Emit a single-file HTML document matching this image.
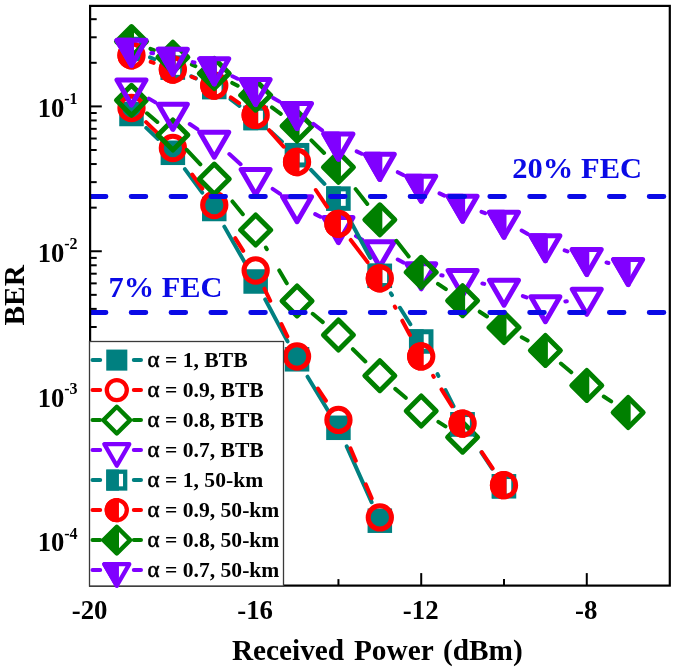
<!DOCTYPE html>
<html><head><meta charset="utf-8"><title>BER vs Received Power</title>
<style>html,body{margin:0;padding:0;background:#fff}svg{display:block}</style></head>
<body>
<svg width="675" height="672" viewBox="0 0 675 672" font-family="'Liberation Serif', serif" font-weight="bold">
<rect width="675" height="672" fill="#fff"/>
<path stroke="#008080" stroke-width="4.0" stroke-linecap="round" fill="none" d="M146.3 127.88L158.07 138.92M184.92 169.15L202.23 192.65M224.33 226.63L245.6 263.87M265.19 299.42L287.52 341.38M307.55 376.67L327.94 410.43M346.7 446.34L371.57 502.16"/>
<g><rect x="121.74" y="104.25" width="19.5" height="19.5" fill="#008080" stroke="#008080" stroke-width="5"/><rect x="163.13" y="143.05" width="19.5" height="19.5" fill="#008080" stroke="#008080" stroke-width="5"/><rect x="204.52" y="199.25" width="19.5" height="19.5" fill="#008080" stroke="#008080" stroke-width="5"/><rect x="245.91" y="271.75" width="19.5" height="19.5" fill="#008080" stroke="#008080" stroke-width="5"/><rect x="287.3" y="349.55" width="19.5" height="19.5" fill="#008080" stroke="#008080" stroke-width="5"/><rect x="328.69" y="418.05" width="19.5" height="19.5" fill="#008080" stroke="#008080" stroke-width="5"/><rect x="370.08" y="510.95" width="19.5" height="19.5" fill="#008080" stroke="#008080" stroke-width="5"/></g>
<path stroke="#ff0000" stroke-width="4.0" stroke-linecap="round" fill="none" d="M146.09 122.11L158.28 133.89M192.15 174.54L202.32 188.54M235.21 238.14L243.22 250.82M264.42 288.7L270.23 300.78M281.46 324.11L287.36 336.37M317.93 388.49L325.91 400.71M350.48 448.25L355.79 460.77M365.83 484.43L371.69 498.23"/>
<g><circle cx="131.49" cy="108" r="11.65" fill="none" stroke="#ff0000" stroke-width="5"/><circle cx="172.88" cy="148" r="11.65" fill="none" stroke="#ff0000" stroke-width="5"/><circle cx="214.27" cy="205" r="11.65" fill="none" stroke="#ff0000" stroke-width="5"/><circle cx="255.66" cy="270.5" r="11.65" fill="none" stroke="#ff0000" stroke-width="5"/><circle cx="297.05" cy="356.5" r="11.65" fill="none" stroke="#ff0000" stroke-width="5"/><circle cx="338.44" cy="419.9" r="11.65" fill="none" stroke="#ff0000" stroke-width="5"/><circle cx="379.83" cy="517.4" r="11.65" fill="none" stroke="#ff0000" stroke-width="5"/></g>
<path stroke="#008000" stroke-width="4.0" stroke-linecap="round" fill="none" d="M147.05 113.34L157.32 121.96M186.77 149.8L200.38 164.3M232.44 201.44L242.85 214.25M265.89 247.53L266.85 249.17M279.25 270.42L286.77 283.28M312.72 313.81L322.77 322.09M352.91 349.23L365.36 361.47M395.28 388.87L405.77 397.83M438.37 421.86L445.46 426.34"/>
<g><path d="M131.49 85.3L146.49 100.3L131.49 115.3L116.49 100.3Z" fill="none" stroke="#008000" stroke-width="5" stroke-linejoin="round"/><path d="M172.88 120L187.88 135L172.88 150L157.88 135Z" fill="none" stroke="#008000" stroke-width="5" stroke-linejoin="round"/><path d="M214.27 164.1L229.27 179.1L214.27 194.1L199.27 179.1Z" fill="none" stroke="#008000" stroke-width="5" stroke-linejoin="round"/><path d="M255.66 215L270.66 230L255.66 245L240.66 230Z" fill="none" stroke="#008000" stroke-width="5" stroke-linejoin="round"/><path d="M297.05 285.9L312.05 300.9L297.05 315.9L282.05 300.9Z" fill="none" stroke="#008000" stroke-width="5" stroke-linejoin="round"/><path d="M338.44 320L353.44 335L338.44 350L323.44 335Z" fill="none" stroke="#008000" stroke-width="5" stroke-linejoin="round"/><path d="M379.83 360.7L394.83 375.7L379.83 390.7L364.83 375.7Z" fill="none" stroke="#008000" stroke-width="5" stroke-linejoin="round"/><path d="M421.22 396L436.22 411L421.22 426L406.22 411Z" fill="none" stroke="#008000" stroke-width="5" stroke-linejoin="round"/><path d="M462.61 422.2L477.61 437.2L462.61 452.2L447.61 437.2Z" fill="none" stroke="#008000" stroke-width="5" stroke-linejoin="round"/></g>
<path stroke="#8000ff" stroke-width="4.0" stroke-linecap="round" fill="none" d="M148.98 98.61L155.39 102.39M189.73 124.02L197.42 129.18M229.35 154.09L240.58 164.21M272.62 188.95L280.09 193.85M315.17 214.15L320.32 216.75M355.98 236.11L362.29 239.79M397.74 259.56L403.31 262.54M441.26 275.34L442.57 275.56M482.37 283.43L484.24 283.87M522.86 296.02L526.53 297.48M565.37 301.43L566.8 301.17"/>
<g><path d="M116.99 79.93L145.99 79.93L131.49 105.04Z" fill="none" stroke="#8000ff" stroke-width="5" stroke-linejoin="round"/><path d="M158.38 104.33L187.38 104.33L172.88 129.44Z" fill="none" stroke="#8000ff" stroke-width="5" stroke-linejoin="round"/><path d="M199.77 132.13L228.77 132.13L214.27 157.24Z" fill="none" stroke="#8000ff" stroke-width="5" stroke-linejoin="round"/><path d="M241.16 169.43L270.16 169.43L255.66 194.54Z" fill="none" stroke="#8000ff" stroke-width="5" stroke-linejoin="round"/><path d="M282.55 196.63L311.55 196.63L297.05 221.74Z" fill="none" stroke="#8000ff" stroke-width="5" stroke-linejoin="round"/><path d="M323.94 217.53L352.94 217.53L338.44 242.64Z" fill="none" stroke="#8000ff" stroke-width="5" stroke-linejoin="round"/><path d="M365.33 241.63L394.33 241.63L379.83 266.74Z" fill="none" stroke="#8000ff" stroke-width="5" stroke-linejoin="round"/><path d="M406.72 263.73L435.72 263.73L421.22 288.84Z" fill="none" stroke="#8000ff" stroke-width="5" stroke-linejoin="round"/><path d="M448.11 270.43L477.11 270.43L462.61 295.54Z" fill="none" stroke="#8000ff" stroke-width="5" stroke-linejoin="round"/><path d="M489.5 280.13L518.5 280.13L504 305.24Z" fill="none" stroke="#8000ff" stroke-width="5" stroke-linejoin="round"/><path d="M530.89 296.63L559.89 296.63L545.39 321.74Z" fill="none" stroke="#8000ff" stroke-width="5" stroke-linejoin="round"/><path d="M572.28 289.23L601.28 289.23L586.78 314.34Z" fill="none" stroke="#8000ff" stroke-width="5" stroke-linejoin="round"/></g>
<path stroke="#008080" stroke-width="4.0" stroke-linecap="round" fill="none" d="M150.01 57.32L154.36 59.28M191.26 76.22L195.89 78.38M230.52 99.17L239.41 105.83M270.76 131.57L281.95 141.63M311.06 169.89L324.43 183.91M348.03 216.49L370.24 257.91M390.86 293.31L391.98 295.09M399.98 307.78L410.37 324.28M437.54 374.15L438.39 375.85M445.5 390.07L453.55 406.17M481.38 452.41L492.15 468.55"/>
<g><rect x="121.74" y="39.25" width="19.5" height="19.5" fill="none" stroke="#008080" stroke-width="5"/><rect x="121.74" y="39.25" width="9.75" height="19.5" fill="#008080" stroke="#008080" stroke-width="5"/><rect x="163.13" y="57.85" width="19.5" height="19.5" fill="none" stroke="#008080" stroke-width="5"/><rect x="163.13" y="57.85" width="9.75" height="19.5" fill="#008080" stroke="#008080" stroke-width="5"/><rect x="204.52" y="77.25" width="19.5" height="19.5" fill="none" stroke="#008080" stroke-width="5"/><rect x="204.52" y="77.25" width="9.75" height="19.5" fill="#008080" stroke="#008080" stroke-width="5"/><rect x="245.91" y="108.25" width="19.5" height="19.5" fill="none" stroke="#008080" stroke-width="5"/><rect x="245.91" y="108.25" width="9.75" height="19.5" fill="#008080" stroke="#008080" stroke-width="5"/><rect x="287.3" y="145.45" width="19.5" height="19.5" fill="none" stroke="#008080" stroke-width="5"/><rect x="287.3" y="145.45" width="9.75" height="19.5" fill="#008080" stroke="#008080" stroke-width="5"/><rect x="328.69" y="188.85" width="19.5" height="19.5" fill="none" stroke="#008080" stroke-width="5"/><rect x="328.69" y="188.85" width="9.75" height="19.5" fill="#008080" stroke="#008080" stroke-width="5"/><rect x="370.08" y="266.05" width="19.5" height="19.5" fill="none" stroke="#008080" stroke-width="5"/><rect x="370.08" y="266.05" width="9.75" height="19.5" fill="#008080" stroke="#008080" stroke-width="5"/><rect x="411.47" y="331.75" width="19.5" height="19.5" fill="none" stroke="#008080" stroke-width="5"/><rect x="411.47" y="331.75" width="9.75" height="19.5" fill="#008080" stroke="#008080" stroke-width="5"/><rect x="452.86" y="414.55" width="19.5" height="19.5" fill="none" stroke="#008080" stroke-width="5"/><rect x="452.86" y="414.55" width="9.75" height="19.5" fill="#008080" stroke="#008080" stroke-width="5"/><rect x="494.25" y="476.55" width="19.5" height="19.5" fill="none" stroke="#008080" stroke-width="5"/><rect x="494.25" y="476.55" width="9.75" height="19.5" fill="#008080" stroke="#008080" stroke-width="5"/></g>
<path stroke="#ff0000" stroke-width="4.0" stroke-linecap="round" fill="none" d="M150.69 61.89L153.68 62.91M191.8 76.86L195.35 78.24M230.84 97.33L239.09 103.17M269.06 130.15L283.65 146.75M315.8 190L327.15 206.95M350.72 239.97L367.55 262.13M394.81 306.57L395.47 307.81M402.31 320.71L409.89 335.03M433.12 375.73L433.81 376.83M441.52 389.35L451.95 406.3M481.8 452.15L492.67 468.34"/>
<g><circle cx="131.49" cy="55.3" r="11.65" fill="none" stroke="#ff0000" stroke-width="5"/><path d="M131.49 43.65A11.65 11.65 0 0 0 131.49 66.95Z" fill="#ff0000" stroke="#ff0000" stroke-width="5"/><circle cx="172.88" cy="69.5" r="11.65" fill="none" stroke="#ff0000" stroke-width="5"/><path d="M172.88 57.85A11.65 11.65 0 0 0 172.88 81.15Z" fill="#ff0000" stroke="#ff0000" stroke-width="5"/><circle cx="214.27" cy="85.6" r="11.65" fill="none" stroke="#ff0000" stroke-width="5"/><path d="M214.27 73.95A11.65 11.65 0 0 0 214.27 97.25Z" fill="#ff0000" stroke="#ff0000" stroke-width="5"/><circle cx="255.66" cy="114.9" r="11.65" fill="none" stroke="#ff0000" stroke-width="5"/><path d="M255.66 103.25A11.65 11.65 0 0 0 255.66 126.55Z" fill="#ff0000" stroke="#ff0000" stroke-width="5"/><circle cx="297.05" cy="162" r="11.65" fill="none" stroke="#ff0000" stroke-width="5"/><path d="M297.05 150.35A11.65 11.65 0 0 0 297.05 173.65Z" fill="#ff0000" stroke="#ff0000" stroke-width="5"/><circle cx="338.44" cy="223.8" r="11.65" fill="none" stroke="#ff0000" stroke-width="5"/><path d="M338.44 212.15A11.65 11.65 0 0 0 338.44 235.45Z" fill="#ff0000" stroke="#ff0000" stroke-width="5"/><circle cx="379.83" cy="278.3" r="11.65" fill="none" stroke="#ff0000" stroke-width="5"/><path d="M379.83 266.65A11.65 11.65 0 0 0 379.83 289.95Z" fill="#ff0000" stroke="#ff0000" stroke-width="5"/><circle cx="421.22" cy="356.4" r="11.65" fill="none" stroke="#ff0000" stroke-width="5"/><path d="M421.22 344.75A11.65 11.65 0 0 0 421.22 368.05Z" fill="#ff0000" stroke="#ff0000" stroke-width="5"/><circle cx="462.61" cy="423.6" r="11.65" fill="none" stroke="#ff0000" stroke-width="5"/><path d="M462.61 411.95A11.65 11.65 0 0 0 462.61 435.25Z" fill="#ff0000" stroke="#ff0000" stroke-width="5"/><circle cx="504" cy="485.2" r="11.65" fill="none" stroke="#ff0000" stroke-width="5"/><path d="M504 473.55A11.65 11.65 0 0 0 504 496.85Z" fill="#ff0000" stroke="#ff0000" stroke-width="5"/></g>
<path stroke="#008000" stroke-width="4.0" stroke-linecap="round" fill="none" d="M150.49 48.76L153.88 50.04M191.77 64.64L195.38 66.06M232.25 82.93L237.68 85.77M271.95 107.32L280.76 113.88M311.42 140.34L324.07 152.96M355.65 189.13L367.29 203.89M396.36 240.77L408.68 256.39M437.96 283.79L445.87 289.21M479.65 311.73L486.96 316.47M521.76 337.33L527.63 340.57M560.89 363.51L571.28 372.29M603.76 396.52L611.19 401.38"/>
<g><path d="M131.49 26.6L146.49 41.6L131.49 56.6L116.49 41.6Z" fill="none" stroke="#008000" stroke-width="5" stroke-linejoin="round"/><path d="M131.49 26.6L131.49 56.6L116.49 41.6Z" fill="#008000"/><path d="M131.49 26.6V56.6" stroke="#008000" stroke-width="5" fill="none"/><path d="M172.88 42.2L187.88 57.2L172.88 72.2L157.88 57.2Z" fill="none" stroke="#008000" stroke-width="5" stroke-linejoin="round"/><path d="M172.88 42.2L172.88 72.2L157.88 57.2Z" fill="#008000"/><path d="M172.88 42.2V72.2" stroke="#008000" stroke-width="5" fill="none"/><path d="M214.27 58.5L229.27 73.5L214.27 88.5L199.27 73.5Z" fill="none" stroke="#008000" stroke-width="5" stroke-linejoin="round"/><path d="M214.27 58.5L214.27 88.5L199.27 73.5Z" fill="#008000"/><path d="M214.27 58.5V88.5" stroke="#008000" stroke-width="5" fill="none"/><path d="M255.66 80.2L270.66 95.2L255.66 110.2L240.66 95.2Z" fill="none" stroke="#008000" stroke-width="5" stroke-linejoin="round"/><path d="M255.66 80.2L255.66 110.2L240.66 95.2Z" fill="#008000"/><path d="M255.66 80.2V110.2" stroke="#008000" stroke-width="5" fill="none"/><path d="M297.05 111L312.05 126L297.05 141L282.05 126Z" fill="none" stroke="#008000" stroke-width="5" stroke-linejoin="round"/><path d="M297.05 111L297.05 141L282.05 126Z" fill="#008000"/><path d="M297.05 111V141" stroke="#008000" stroke-width="5" fill="none"/><path d="M338.44 152.3L353.44 167.3L338.44 182.3L323.44 167.3Z" fill="none" stroke="#008000" stroke-width="5" stroke-linejoin="round"/><path d="M338.44 152.3L338.44 182.3L323.44 167.3Z" fill="#008000"/><path d="M338.44 152.3V182.3" stroke="#008000" stroke-width="5" fill="none"/><path d="M379.83 204.8L394.83 219.8L379.83 234.8L364.83 219.8Z" fill="none" stroke="#008000" stroke-width="5" stroke-linejoin="round"/><path d="M379.83 204.8L379.83 234.8L364.83 219.8Z" fill="#008000"/><path d="M379.83 204.8V234.8" stroke="#008000" stroke-width="5" fill="none"/><path d="M421.22 257.3L436.22 272.3L421.22 287.3L406.22 272.3Z" fill="none" stroke="#008000" stroke-width="5" stroke-linejoin="round"/><path d="M421.22 257.3L421.22 287.3L406.22 272.3Z" fill="#008000"/><path d="M421.22 257.3V287.3" stroke="#008000" stroke-width="5" fill="none"/><path d="M462.61 285.7L477.61 300.7L462.61 315.7L447.61 300.7Z" fill="none" stroke="#008000" stroke-width="5" stroke-linejoin="round"/><path d="M462.61 285.7L462.61 315.7L447.61 300.7Z" fill="#008000"/><path d="M462.61 285.7V315.7" stroke="#008000" stroke-width="5" fill="none"/><path d="M504 312.5L519 327.5L504 342.5L489 327.5Z" fill="none" stroke="#008000" stroke-width="5" stroke-linejoin="round"/><path d="M504 312.5L504 342.5L489 327.5Z" fill="#008000"/><path d="M504 312.5V342.5" stroke="#008000" stroke-width="5" fill="none"/><path d="M545.39 335.4L560.39 350.4L545.39 365.4L530.39 350.4Z" fill="none" stroke="#008000" stroke-width="5" stroke-linejoin="round"/><path d="M545.39 335.4L545.39 365.4L530.39 350.4Z" fill="#008000"/><path d="M545.39 335.4V365.4" stroke="#008000" stroke-width="5" fill="none"/><path d="M586.78 370.4L601.78 385.4L586.78 400.4L571.78 385.4Z" fill="none" stroke="#008000" stroke-width="5" stroke-linejoin="round"/><path d="M586.78 370.4L586.78 400.4L571.78 385.4Z" fill="#008000"/><path d="M586.78 370.4V400.4" stroke="#008000" stroke-width="5" fill="none"/><path d="M628.17 397.5L643.17 412.5L628.17 427.5L613.17 412.5Z" fill="none" stroke="#008000" stroke-width="5" stroke-linejoin="round"/><path d="M628.17 397.5L628.17 427.5L613.17 412.5Z" fill="#008000"/><path d="M628.17 397.5V427.5" stroke="#008000" stroke-width="5" fill="none"/></g>
<path stroke="#8000ff" stroke-width="4.0" stroke-linecap="round" fill="none" d="M151.35 52.92L153.02 53.28M192.64 62.13L194.51 62.57M232.44 76.25L237.49 78.75M273.22 97.98L279.49 101.62M313.37 123.87L322.12 130.33M356.67 151.34L361.6 153.76M397.79 172.16L403.26 175.04M439.5 193.33L444.33 195.67M481.54 211.82L485.07 213.18M521.65 230.52L527.74 233.98M564.65 250.42L567.52 251.38M606.51 262.57L608.44 263.03"/>
<g><path d="M116.99 40.33L145.99 40.33L131.49 65.44Z" fill="none" stroke="#8000ff" stroke-width="5" stroke-linejoin="round"/><path d="M116.99 40.33L131.49 40.33L131.49 65.44Z" fill="#8000ff" stroke="#8000ff" stroke-width="5" stroke-linejoin="round"/><path d="M158.38 49.13L187.38 49.13L172.88 74.24Z" fill="none" stroke="#8000ff" stroke-width="5" stroke-linejoin="round"/><path d="M158.38 49.13L172.88 49.13L172.88 74.24Z" fill="#8000ff" stroke="#8000ff" stroke-width="5" stroke-linejoin="round"/><path d="M199.77 58.83L228.77 58.83L214.27 83.94Z" fill="none" stroke="#8000ff" stroke-width="5" stroke-linejoin="round"/><path d="M199.77 58.83L214.27 58.83L214.27 83.94Z" fill="#8000ff" stroke="#8000ff" stroke-width="5" stroke-linejoin="round"/><path d="M241.16 79.43L270.16 79.43L255.66 104.54Z" fill="none" stroke="#8000ff" stroke-width="5" stroke-linejoin="round"/><path d="M241.16 79.43L255.66 79.43L255.66 104.54Z" fill="#8000ff" stroke="#8000ff" stroke-width="5" stroke-linejoin="round"/><path d="M282.55 103.43L311.55 103.43L297.05 128.54Z" fill="none" stroke="#8000ff" stroke-width="5" stroke-linejoin="round"/><path d="M282.55 103.43L297.05 103.43L297.05 128.54Z" fill="#8000ff" stroke="#8000ff" stroke-width="5" stroke-linejoin="round"/><path d="M323.94 134.03L352.94 134.03L338.44 159.14Z" fill="none" stroke="#8000ff" stroke-width="5" stroke-linejoin="round"/><path d="M323.94 134.03L338.44 134.03L338.44 159.14Z" fill="#8000ff" stroke="#8000ff" stroke-width="5" stroke-linejoin="round"/><path d="M365.33 154.33L394.33 154.33L379.83 179.44Z" fill="none" stroke="#8000ff" stroke-width="5" stroke-linejoin="round"/><path d="M365.33 154.33L379.83 154.33L379.83 179.44Z" fill="#8000ff" stroke="#8000ff" stroke-width="5" stroke-linejoin="round"/><path d="M406.72 176.13L435.72 176.13L421.22 201.24Z" fill="none" stroke="#8000ff" stroke-width="5" stroke-linejoin="round"/><path d="M406.72 176.13L421.22 176.13L421.22 201.24Z" fill="#8000ff" stroke="#8000ff" stroke-width="5" stroke-linejoin="round"/><path d="M448.11 196.13L477.11 196.13L462.61 221.24Z" fill="none" stroke="#8000ff" stroke-width="5" stroke-linejoin="round"/><path d="M448.11 196.13L462.61 196.13L462.61 221.24Z" fill="#8000ff" stroke="#8000ff" stroke-width="5" stroke-linejoin="round"/><path d="M489.5 212.13L518.5 212.13L504 237.24Z" fill="none" stroke="#8000ff" stroke-width="5" stroke-linejoin="round"/><path d="M489.5 212.13L504 212.13L504 237.24Z" fill="#8000ff" stroke="#8000ff" stroke-width="5" stroke-linejoin="round"/><path d="M530.89 235.63L559.89 235.63L545.39 260.74Z" fill="none" stroke="#8000ff" stroke-width="5" stroke-linejoin="round"/><path d="M530.89 235.63L545.39 235.63L545.39 260.74Z" fill="#8000ff" stroke="#8000ff" stroke-width="5" stroke-linejoin="round"/><path d="M572.28 249.43L601.28 249.43L586.78 274.54Z" fill="none" stroke="#8000ff" stroke-width="5" stroke-linejoin="round"/><path d="M572.28 249.43L586.78 249.43L586.78 274.54Z" fill="#8000ff" stroke="#8000ff" stroke-width="5" stroke-linejoin="round"/><path d="M613.67 259.43L642.67 259.43L628.17 284.54Z" fill="none" stroke="#8000ff" stroke-width="5" stroke-linejoin="round"/><path d="M613.67 259.43L628.17 259.43L628.17 284.54Z" fill="#8000ff" stroke="#8000ff" stroke-width="5" stroke-linejoin="round"/></g>
<path d="M91.3 196.5H669.8" stroke="#0a0ae6" stroke-width="4.8" stroke-dasharray="14.7 25.15" stroke-linecap="round" fill="none"/>
<path d="M91.3 312.5H669.8" stroke="#0a0ae6" stroke-width="4.8" stroke-dasharray="14.7 25.15" stroke-linecap="round" fill="none"/>
<text transform="translate(512.3 178) scale(1.035 1)" font-size="29.5" fill="#0a0ae6">20% FEC</text>
<text transform="translate(108.6 297) scale(1.03 1)" font-size="29.5" fill="#0a0ae6">7% FEC</text>
<g stroke="#000" stroke-width="2.2" fill="none"><rect x="90.1" y="5.9" width="579.7" height="579.7"/></g><g stroke="#000" stroke-width="2" fill="none"><path d="M338.44 585.6V579.1"/><path d="M421.22 585.6V573.1"/><path d="M504 585.6V579.1"/><path d="M586.78 585.6V573.1"/><path d="M90.1 326.99H96.7"/><path d="M90.1 308.89H96.7"/><path d="M90.1 294.85H96.7"/><path d="M90.1 283.38H96.7"/><path d="M90.1 273.69H96.7"/><path d="M90.1 265.29H96.7"/><path d="M90.1 257.88H96.7"/><path d="M90.1 251.25H101.8"/><path d="M90.1 207.65H96.7"/><path d="M90.1 182.14H96.7"/><path d="M90.1 164.04H96.7"/><path d="M90.1 150H96.7"/><path d="M90.1 138.53H96.7"/><path d="M90.1 128.84H96.7"/><path d="M90.1 120.44H96.7"/><path d="M90.1 113.03H96.7"/><path d="M90.1 106.4H101.8"/><path d="M90.1 62.8H96.7"/><path d="M90.1 37.29H96.7"/><path d="M90.1 19.19H96.7"/></g>
<rect x="89.5" y="341.5" width="194" height="244.5" fill="#fff" stroke="#3a3a3a" stroke-width="1.3"/>
<path d="M92.5 360.1H100.2M133.8 360.1H141" stroke="#008080" stroke-width="4.0" stroke-linecap="round"/>
<rect x="108.41" y="351.72" width="16.77" height="16.77" fill="#008080" stroke="#008080" stroke-width="4.3"/>
<text x="147.6" y="366.9" font-size="21.6" fill="#000"><tspan font-weight="normal" font-size="23" stroke="#000" stroke-width="0.55">α</tspan> = 1, BTB</text>
<path d="M92.5 390.1H100.2M133.8 390.1H141" stroke="#ff0000" stroke-width="4.0" stroke-linecap="round"/>
<circle cx="116.8" cy="390.1" r="10.02" fill="none" stroke="#ff0000" stroke-width="4.3"/>
<text x="147.6" y="396.9" font-size="21.6" fill="#000"><tspan font-weight="normal" font-size="23" stroke="#000" stroke-width="0.55">α</tspan> = 0.9, BTB</text>
<path d="M92.5 420.1H100.2M133.8 420.1H141" stroke="#008000" stroke-width="4.0" stroke-linecap="round"/>
<path d="M116.8 406.75L130.15 420.1L116.8 433.45L103.45 420.1Z" fill="none" stroke="#008000" stroke-width="4.45" stroke-linejoin="round"/>
<text x="147.6" y="426.9" font-size="21.6" fill="#000"><tspan font-weight="normal" font-size="23" stroke="#000" stroke-width="0.55">α</tspan> = 0.8, BTB</text>
<path d="M92.5 450.1H100.2M133.8 450.1H141" stroke="#8000ff" stroke-width="4.0" stroke-linecap="round"/>
<path d="M104.33 444.1L129.27 444.1L116.8 465.7Z" fill="none" stroke="#8000ff" stroke-width="4.3" stroke-linejoin="round"/>
<text x="147.6" y="456.9" font-size="21.6" fill="#000"><tspan font-weight="normal" font-size="23" stroke="#000" stroke-width="0.55">α</tspan> = 0.7, BTB</text>
<path d="M92.5 480.1H100.2M133.8 480.1H141" stroke="#008080" stroke-width="4.0" stroke-linecap="round"/>
<rect x="108.41" y="471.72" width="16.77" height="16.77" fill="none" stroke="#008080" stroke-width="4.3"/><rect x="108.41" y="471.72" width="8.38" height="16.77" fill="#008080" stroke="#008080" stroke-width="4.3"/>
<text x="147.6" y="486.9" font-size="21.6" fill="#000"><tspan font-weight="normal" font-size="23" stroke="#000" stroke-width="0.55">α</tspan> = 1, 50-km</text>
<path d="M92.5 510.1H100.2M133.8 510.1H141" stroke="#ff0000" stroke-width="4.0" stroke-linecap="round"/>
<circle cx="116.8" cy="510.1" r="10.02" fill="none" stroke="#ff0000" stroke-width="4.3"/><path d="M116.8 500.08A10.02 10.02 0 0 0 116.8 520.12Z" fill="#ff0000" stroke="#ff0000" stroke-width="4.3"/>
<text x="147.6" y="516.9" font-size="21.6" fill="#000"><tspan font-weight="normal" font-size="23" stroke="#000" stroke-width="0.55">α</tspan> = 0.9, 50-km</text>
<path d="M92.5 540.1H100.2M133.8 540.1H141" stroke="#008000" stroke-width="4.0" stroke-linecap="round"/>
<path d="M116.8 526.75L130.15 540.1L116.8 553.45L103.45 540.1Z" fill="none" stroke="#008000" stroke-width="4.45" stroke-linejoin="round"/><path d="M116.8 526.75L116.8 553.45L103.45 540.1Z" fill="#008000"/><path d="M116.8 526.75V553.45" stroke="#008000" stroke-width="4.45" fill="none"/>
<text x="147.6" y="546.9" font-size="21.6" fill="#000"><tspan font-weight="normal" font-size="23" stroke="#000" stroke-width="0.55">α</tspan> = 0.8, 50-km</text>
<path d="M92.5 570.1H100.2M133.8 570.1H141" stroke="#8000ff" stroke-width="4.0" stroke-linecap="round"/>
<path d="M104.33 564.1L129.27 564.1L116.8 585.7Z" fill="none" stroke="#8000ff" stroke-width="4.3" stroke-linejoin="round"/><path d="M104.33 564.1L116.8 564.1L116.8 585.7Z" fill="#8000ff" stroke="#8000ff" stroke-width="4.3" stroke-linejoin="round"/>
<text x="147.6" y="576.9" font-size="21.6" fill="#000"><tspan font-weight="normal" font-size="23" stroke="#000" stroke-width="0.55">α</tspan> = 0.7, 50-km</text>
<text x="89.6" y="619.2" font-size="26.8" text-anchor="middle">-20</text>
<text x="255.16" y="619.2" font-size="26.8" text-anchor="middle">-16</text>
<text x="420.72" y="619.2" font-size="26.8" text-anchor="middle">-12</text>
<text x="586.28" y="619.2" font-size="26.8" text-anchor="middle">-8</text>
<text x="64.4" y="116.8" font-size="26.6" text-anchor="end">10</text>
<text x="64.2" y="104.1" font-size="16">-1</text>
<text x="64.4" y="261.65" font-size="26.6" text-anchor="end">10</text>
<text x="64.2" y="248.95" font-size="16">-2</text>
<text x="64.4" y="406.5" font-size="26.6" text-anchor="end">10</text>
<text x="64.2" y="393.8" font-size="16">-3</text>
<text x="64.4" y="551.35" font-size="26.6" text-anchor="end">10</text>
<text x="64.2" y="538.65" font-size="16">-4</text>
<text x="231.9" y="660.4" font-size="29.3" word-spacing="2.5">Received Power (dBm)</text>
<text transform="translate(24.1 295.3) rotate(-90)" font-size="29.3" text-anchor="middle">BER</text>
</svg>
</body></html>
